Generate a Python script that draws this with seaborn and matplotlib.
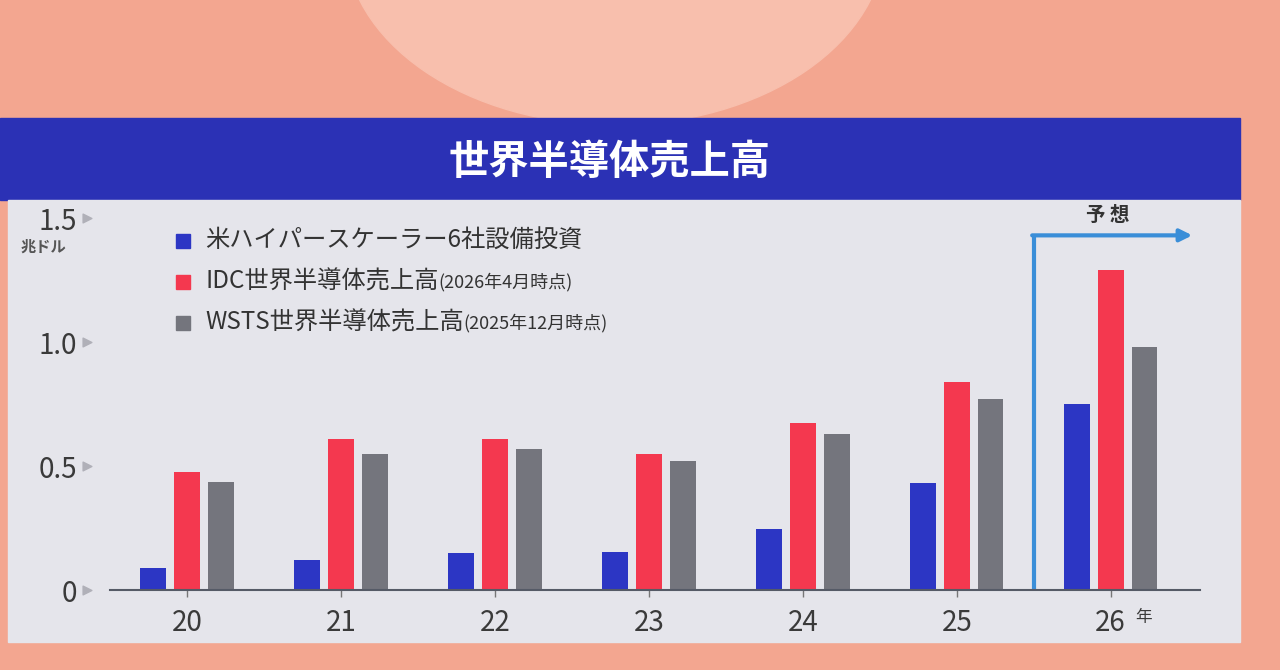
import pandas as pd
import matplotlib.pyplot as plt
import seaborn as sns
from matplotlib.patches import Rectangle, Ellipse

# data (trillion USD)
years = ["20", "21", "22", "23", "24", "25", "26"]
series = ["米ハイパースケーラー6社設備投資",
          "IDC世界半導体売上高",
          "WSTS世界半導体売上高"]
notes = ["", "(2026年4月時点)", "(2025年12月時点)"]
capex = [0.09, 0.12, 0.15, 0.155, 0.245, 0.43, 0.75]
idc = [0.475, 0.61, 0.61, 0.55, 0.675, 0.84, 1.29]
wsts = [0.435, 0.55, 0.57, 0.52, 0.63, 0.77, 0.98]
yticks = [0, 0.5, 1.0, 1.5]
ytick_labels = ["0", "0.5", "1.0", "1.5"]
colors = ["#2c36c4", "#f4384f", "#74757d"]

df = pd.DataFrame({
    "year": years * 3,
    "value": capex + idc + wsts,
    "series": [series[0]] * 7 + [series[1]] * 7 + [series[2]] * 7,
})

sns.set_theme(style="white")
plt.rcParams["font.family"] = ["Noto Sans CJK JP", "DejaVu Sans"]

W, H = 1280, 670
fig = plt.figure(figsize=(12.8, 6.7), dpi=100, facecolor="#f3a690")


def fx(x):
    return x / W


def fy(y):
    return 1 - y / H


# photo background: lighter circle, title band, chart panel
fig.add_artist(Ellipse((fx(615), fy(-60)), 540 / W, 370 / H,
                       transform=fig.transFigure, color="#f8bfad", zorder=0))
fig.add_artist(Rectangle((fx(0), fy(200)), 1240 / W, 82 / H,
                         transform=fig.transFigure, color="#2b31b5", zorder=1))
fig.add_artist(Rectangle((fx(8), fy(642)), 1232 / W, 442 / H,
                         transform=fig.transFigure, color="#e5e5eb", zorder=1))
fig.text(fx(610), fy(162), "世界半導体売上高", color="white", fontsize=29,
         fontweight="bold", ha="center", va="center", zorder=3)

ax = fig.add_axes([fx(110), fy(590), 1090 / W, 372 / H])
ax.set_facecolor("none")
ax.set_zorder(2)

sns.barplot(data=df, x="year", y="value", hue="series", palette=colors,
            saturation=1, width=0.66, gap=0.24, linewidth=0,
            legend=False, ax=ax)

ax.set_xlim(-0.5, 6.58)
ax.set_ylim(0, 1.5)
ax.set_xlabel("")
ax.set_ylabel("")
for s in ["top", "right", "left"]:
    ax.spines[s].set_visible(False)
ax.spines["bottom"].set_color("#555a66")
ax.spines["bottom"].set_linewidth(1.5)

ax.set_yticks(yticks)
ax.set_yticklabels(ytick_labels)
ax.tick_params(axis="y", length=0, pad=24, labelsize=20, labelcolor="#3a3a3a")
ax.tick_params(axis="x", length=5, width=1, color="#777", pad=8,
               labelsize=20, labelcolor="#3a3a3a", bottom=True)
ax.scatter([-0.021] * len(yticks), yticks, marker=">", s=40, color="#b0b0b8",
           transform=ax.get_yaxis_transform(), clip_on=False, zorder=3)

ax.annotate("年", xy=(6, 0), xycoords=("data", "axes fraction"),
            xytext=(18, -20), textcoords="offset points", fontsize=12,
            color="#3a3a3a", va="center")
ax.text(-0.04, 1.385, "兆ドル", transform=ax.get_yaxis_transform(),
        fontsize=11, color="#555", ha="right", va="center",
        fontweight="bold")

# forecast arrow
ax.plot([5.5, 5.5], [0, 1.43], color="#3a8ed8", lw=3, clip_on=False,
        solid_capstyle="butt")
ax.annotate("", xy=(6.53, 1.43), xytext=(5.49, 1.43),
            arrowprops=dict(arrowstyle="-|>", color="#3a8ed8", lw=3,
                            mutation_scale=18, shrinkA=0, shrinkB=0),
            annotation_clip=False)
ax.text(5.98, 1.51, "予 想", fontsize=14, color="#333", ha="center",
        va="center", fontweight="bold")

# legend drawn as text rows
for i, (name, note) in enumerate(zip(series, notes)):
    y = fy(241 + 41 * i)
    fig.patches.append(Rectangle((fx(176), y - 7 / H), 14 / W, 14 / H,
                                 transform=fig.transFigure,
                                 color=colors[i], zorder=4))
    t = fig.text(fx(205), y, name, fontsize=17.5, color="#333",
                 va="center", ha="left", zorder=4)
    if note:
        ax.annotate(note, xy=(1, 0.5), xycoords=t, va="center", ha="left",
                    fontsize=13, color="#333", annotation_clip=False)

fig.savefig("out.png", dpi=100, facecolor=fig.get_facecolor())
